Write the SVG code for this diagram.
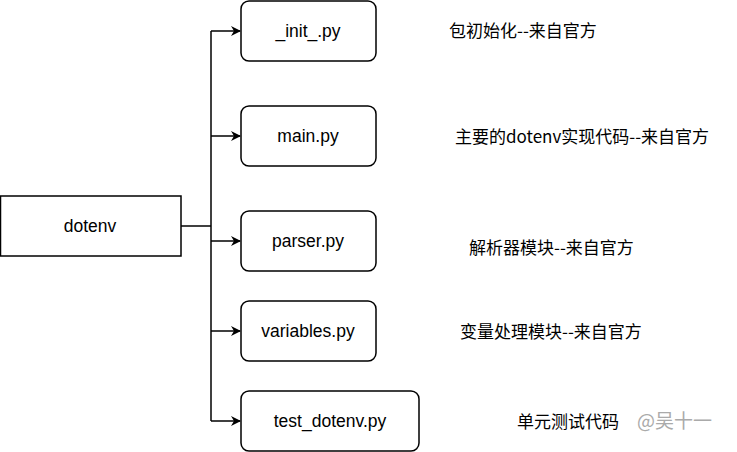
<svg xmlns="http://www.w3.org/2000/svg" width="737" height="452" viewBox="0 0 737 452">
<style>
.n{fill:#fff;stroke:#000;stroke-width:1.5}
.t{font-family:"Liberation Sans",Arial,sans-serif;font-size:17.5px;fill:#000;text-anchor:middle}
.c{font-family:"Noto Sans CJK SC",sans-serif;font-size:17px;fill:#000}
.e{fill:none;stroke:#000;stroke-width:1.5}
</style>
<defs><marker id="a" markerWidth="10" markerHeight="10" refX="9" refY="5" orient="auto" markerUnits="userSpaceOnUse"><path d="M0,0L10,5L0,10L3,5Z" fill="#000"/></marker></defs>
<rect width="737" height="452" fill="#fff"/>
<g id="edges">
<path class="e" d="M181,226H211"/>
<path class="e" d="M211,31V421"/>
<path class="e" d="M211,31H240" marker-end="url(#a)"/>
<path class="e" d="M211,136H240" marker-end="url(#a)"/>
<path class="e" d="M211,241H240" marker-end="url(#a)"/>
<path class="e" d="M211,331H240" marker-end="url(#a)"/>
<path class="e" d="M211,421H240" marker-end="url(#a)"/>
</g>
<g id="dotenv"><rect class="n" x="0.5" y="196" width="180.5" height="60"/><text class="t" x="90" y="232">dotenv</text></g>
<g id="init"><rect class="n" x="241" y="1" width="135" height="60" rx="8"/><text class="t" x="308" y="37">_init_.py</text></g>
<g id="main"><rect class="n" x="241" y="106" width="135" height="60" rx="8"/><text class="t" x="308" y="142">main.py</text></g>
<g id="parser"><rect class="n" x="241" y="211" width="135" height="60" rx="8"/><text class="t" x="308" y="247">parser.py</text></g>
<g id="variables"><rect class="n" x="241" y="301" width="135" height="60" rx="8"/><text class="t" x="308" y="337">variables.py</text></g>
<g id="test"><rect class="n" x="241" y="391" width="178" height="60" rx="8"/><text class="t" x="330" y="427">test_dotenv.py</text></g>
<g id="labels">
<text class="c" x="449" y="37">包初始化--来自官方</text>
<text class="c" x="455" y="143">主要的dotenv实现代码--来自官方</text>
<text class="c" x="469" y="254">解析器模块--来自官方</text>
<text class="c" x="460" y="338">变量处理模块--来自官方</text>
<text class="c" x="517" y="428">单元测试代码</text>
<text class="c" x="637" y="428" style="fill:#aaa;font-size:19px">@吴十一</text>
</g>
</svg>
